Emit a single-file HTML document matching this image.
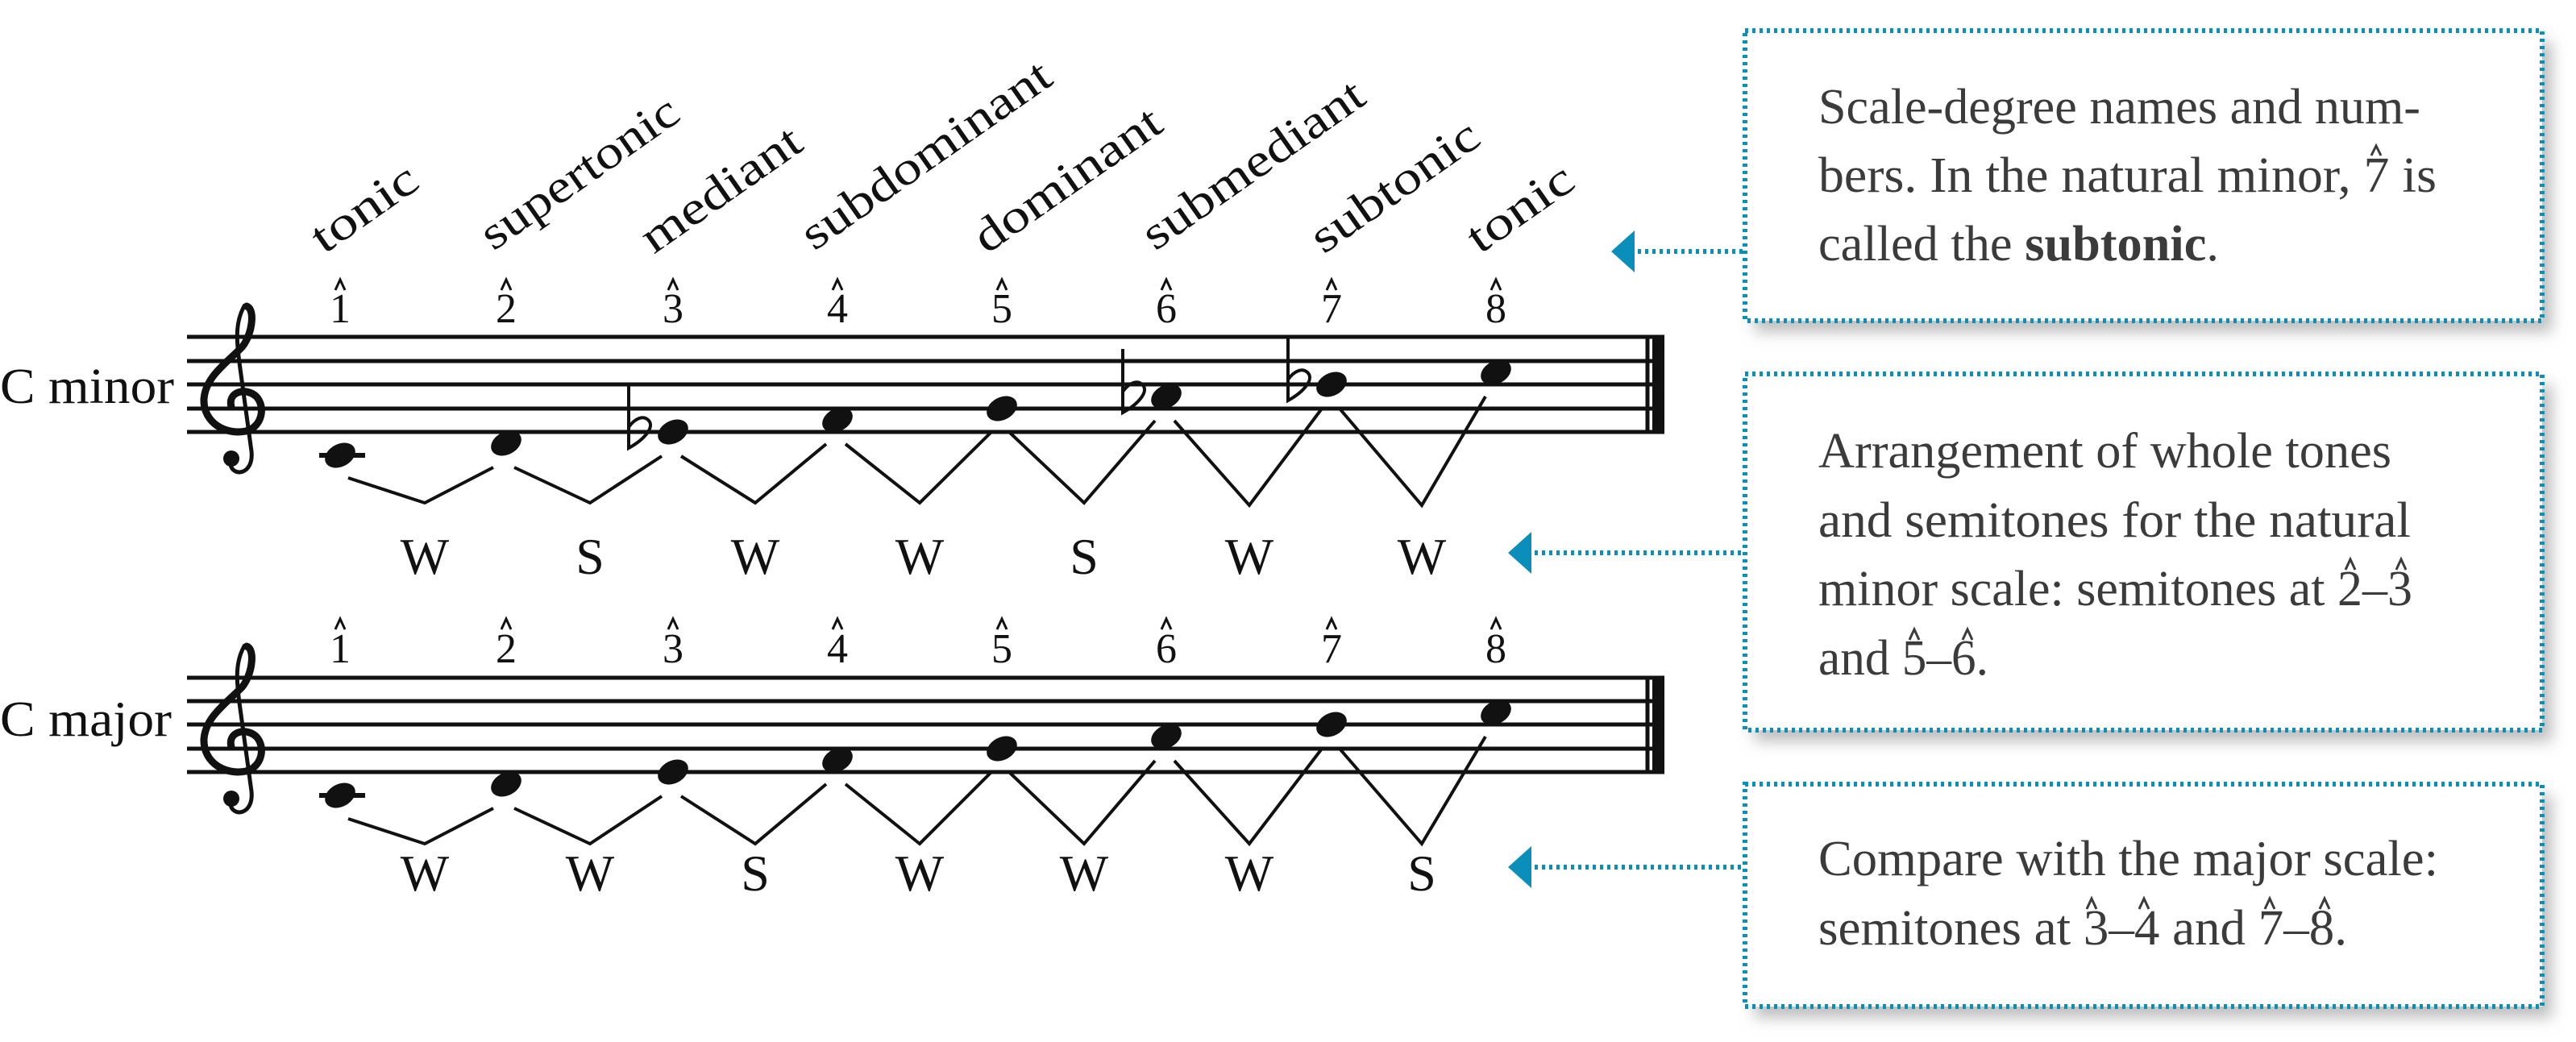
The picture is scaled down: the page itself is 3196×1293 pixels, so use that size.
<!DOCTYPE html>
<html><head><meta charset="utf-8"><style>
html,body{margin:0;padding:0;background:#fff;}
svg{display:block;}
</style></head><body>
<svg width="3196" height="1293" viewBox="0 0 3196 1293" xmlns="http://www.w3.org/2000/svg">
<defs>
<filter id="sh" x="-5%" y="-5%" width="115%" height="125%">
<feDropShadow dx="12" dy="14" stdDeviation="9" flood-color="#888" flood-opacity="0.55"/>
</filter>
<g id="clef">
<path d="M306,380 C318,384 312,420 298,433 C275,455 255,470 253,495 C252,525 280,540 305,535 C325,530 330,505 318,492 C305,480 282,486 287,505" fill="none" stroke="#111" stroke-width="9" stroke-linecap="round"/>
<path d="M304,378 C292,398 293,420 297,450 L312,560 C315,590 288,592 286,576" fill="none" stroke="#111" stroke-width="5"/>
<circle cx="287" cy="569" r="10" fill="#111"/>
</g>
</defs>

<g font-family="Liberation Serif, serif" fill="#111" font-size="58">
<text transform="translate(402,316) rotate(-35)" textLength="148" lengthAdjust="spacingAndGlyphs">tonic</text>
<text transform="translate(612,312) rotate(-35)" textLength="287" lengthAdjust="spacingAndGlyphs">supertonic</text>
<text transform="translate(811,316) rotate(-35)" textLength="230" lengthAdjust="spacingAndGlyphs">mediant</text>
<text transform="translate(1010,312) rotate(-35)" textLength="365" lengthAdjust="spacingAndGlyphs">subdominant</text>
<text transform="translate(1224,316) rotate(-35)" textLength="271" lengthAdjust="spacingAndGlyphs">dominant</text>
<text transform="translate(1433,312) rotate(-35)" textLength="323" lengthAdjust="spacingAndGlyphs">submediant</text>
<text transform="translate(1642,316) rotate(-35)" textLength="242" lengthAdjust="spacingAndGlyphs">subtonic</text>
<text transform="translate(1836,316) rotate(-35)" textLength="148" lengthAdjust="spacingAndGlyphs">tonic</text>
</g>

<!-- STAFF 1 -->
<g stroke="#111" stroke-width="5">
<line x1="232" y1="418" x2="2065" y2="418"/>
<line x1="232" y1="448" x2="2065" y2="448"/>
<line x1="232" y1="477" x2="2065" y2="477"/>
<line x1="232" y1="507" x2="2065" y2="507"/>
<line x1="232" y1="536" x2="2065" y2="536"/>
<line x1="2044" y1="416" x2="2044" y2="538"/>
<line x1="396" y1="565" x2="453" y2="565" stroke-width="6"/>
</g>
<rect x="2050" y="416" width="15" height="122" fill="#111"/>
<use href="#clef"/>
<text font-family="Liberation Serif, serif" fill="#111" x="0" y="500" font-size="62" textLength="216" lengthAdjust="spacingAndGlyphs">C minor</text>

<g fill="#111">
<ellipse cx="422" cy="565" rx="20" ry="14" transform="rotate(-28 422 565)"/>
<ellipse cx="628" cy="550" rx="20" ry="14" transform="rotate(-28 628 550)"/>
<ellipse cx="835" cy="536" rx="20" ry="14" transform="rotate(-28 835 536)"/>
<ellipse cx="1039" cy="521" rx="20" ry="14" transform="rotate(-28 1039 521)"/>
<ellipse cx="1243" cy="507" rx="20" ry="14" transform="rotate(-28 1243 507)"/>
<ellipse cx="1447" cy="492" rx="20" ry="14" transform="rotate(-28 1447 492)"/>
<ellipse cx="1652" cy="477" rx="20" ry="14" transform="rotate(-28 1652 477)"/>
<ellipse cx="1856" cy="462" rx="20" ry="14" transform="rotate(-28 1856 462)"/>
</g>
<g fill="none" stroke="#111" stroke-width="4">
<path d="M780,478 L780,556 C800,545 812,530 805,522 C798,514 787,520 780,530"/>
<path d="M1393,433 L1393,512 C1413,501 1425,486 1418,478 C1411,470 1400,476 1393,486"/>
<path d="M1598,418 L1598,497 C1618,486 1630,471 1623,463 C1616,455 1605,461 1598,471"/>
</g>
<g font-family="Liberation Serif, serif" fill="#111" font-size="52" text-anchor="middle">
<text x="422" y="400">1</text><text x="628" y="400">2</text><text x="835" y="400">3</text><text x="1039" y="400">4</text>
<text x="1243" y="400">5</text><text x="1447" y="400">6</text><text x="1652" y="400">7</text><text x="1856" y="400">8</text>
<text x="422" y="822">1</text><text x="628" y="822">2</text><text x="835" y="822">3</text><text x="1039" y="822">4</text>
<text x="1243" y="822">5</text><text x="1447" y="822">6</text><text x="1652" y="822">7</text><text x="1856" y="822">8</text>
</g>
<g fill="none" stroke="#111" stroke-width="3">
<path d="M416,360 L422,347 L428,360 M622,360 L628,347 L634,360 M829,360 L835,347 L841,360 M1033,360 L1039,347 L1045,360 M1237,360 L1243,347 L1249,360 M1441,360 L1447,347 L1453,360 M1646,360 L1652,347 L1658,360 M1850,360 L1856,347 L1862,360"/>
<path d="M416,781 L422,768 L428,781 M622,781 L628,768 L634,781 M829,781 L835,768 L841,781 M1033,781 L1039,768 L1045,781 M1237,781 L1243,768 L1249,781 M1441,781 L1447,768 L1453,781 M1646,781 L1652,768 L1658,781 M1850,781 L1856,768 L1862,781"/>
</g>
<g fill="none" stroke="#111" stroke-width="4">
<polyline points="432,593 527,624 612,580"/>
<polyline points="638,580 732,624 821,566"/>
<polyline points="845,566 937,624 1025,551"/>
<polyline points="1049,551 1141,624 1229,537"/>
<polyline points="1253,537 1345,624 1433,522"/>
<polyline points="1457,522 1550,627 1640,507"/>
<polyline points="1662,507 1764,627 1843,492"/>
</g>
<g font-family="Liberation Serif, serif" fill="#111" font-size="64" text-anchor="middle">
<text x="527" y="712">W</text><text x="732" y="712">S</text><text x="937" y="712">W</text><text x="1141" y="712">W</text>
<text x="1345" y="712">S</text><text x="1550" y="712">W</text><text x="1764" y="712">W</text>
</g>

<!-- STAFF 2 -->
<g stroke="#111" stroke-width="5">
<line x1="232" y1="841" x2="2065" y2="841"/>
<line x1="232" y1="870" x2="2065" y2="870"/>
<line x1="232" y1="899" x2="2065" y2="899"/>
<line x1="232" y1="929" x2="2065" y2="929"/>
<line x1="232" y1="958" x2="2065" y2="958"/>
<line x1="2044" y1="839" x2="2044" y2="960"/>
<line x1="396" y1="987" x2="453" y2="987" stroke-width="6"/>
</g>
<rect x="2050" y="839" width="15" height="121" fill="#111"/>
<use href="#clef" transform="translate(0,422)"/>
<text font-family="Liberation Serif, serif" fill="#111" x="0" y="913" font-size="62" textLength="213" lengthAdjust="spacingAndGlyphs">C major</text>
<g fill="#111">
<ellipse cx="422" cy="987" rx="20" ry="14" transform="rotate(-28 422 987)"/>
<ellipse cx="628" cy="973" rx="20" ry="14" transform="rotate(-28 628 973)"/>
<ellipse cx="835" cy="958" rx="20" ry="14" transform="rotate(-28 835 958)"/>
<ellipse cx="1039" cy="943" rx="20" ry="14" transform="rotate(-28 1039 943)"/>
<ellipse cx="1243" cy="929" rx="20" ry="14" transform="rotate(-28 1243 929)"/>
<ellipse cx="1447" cy="914" rx="20" ry="14" transform="rotate(-28 1447 914)"/>
<ellipse cx="1652" cy="899" rx="20" ry="14" transform="rotate(-28 1652 899)"/>
<ellipse cx="1856" cy="884" rx="20" ry="14" transform="rotate(-28 1856 884)"/>
</g>
<g fill="none" stroke="#111" stroke-width="4">
<polyline points="432,1016 527,1047 612,1003"/>
<polyline points="638,1003 732,1047 821,988"/>
<polyline points="845,988 937,1047 1025,973"/>
<polyline points="1049,973 1141,1047 1229,959"/>
<polyline points="1253,959 1345,1047 1433,944"/>
<polyline points="1457,944 1550,1047 1640,929"/>
<polyline points="1662,929 1764,1047 1843,914"/>
</g>
<g font-family="Liberation Serif, serif" fill="#111" font-size="64" text-anchor="middle">
<text x="527" y="1105">W</text><text x="732" y="1105">W</text><text x="937" y="1105">S</text><text x="1141" y="1105">W</text>
<text x="1345" y="1105">W</text><text x="1550" y="1105">W</text><text x="1764" y="1105">S</text>
</g>

<!-- arrows -->
<g stroke="#0a8fbb" stroke-width="6" stroke-dasharray="4 5">
<line x1="2032" y1="312" x2="2165" y2="312"/>
<line x1="1904" y1="686" x2="2165" y2="686"/>
<line x1="1904" y1="1076" x2="2165" y2="1076"/>
</g>
<g fill="#0a8fbb">
<polygon points="1999,312 2028,286 2028,338"/>
<polygon points="1871,686 1900,660 1900,712"/>
<polygon points="1871,1076 1900,1050 1900,1102"/>
</g>

<!-- boxes -->
<g filter="url(#sh)">
<rect x="2165" y="38" width="989" height="360" fill="#fff"/>
<rect x="2165" y="464" width="989" height="442" fill="#fff"/>
<rect x="2165" y="973" width="989" height="276" fill="#fff"/>
</g>
<g fill="none" stroke="#0a8fbb" stroke-width="6" stroke-dasharray="4 5">
<rect x="2165" y="38" width="989" height="360"/>
<rect x="2165" y="464" width="989" height="442"/>
<rect x="2165" y="973" width="989" height="276"/>
</g>

<g font-family="Liberation Serif, serif" fill="#3b3b3b" font-size="62">
<text x="2256" y="153" textLength="747" lengthAdjust="spacingAndGlyphs">Scale-degree names and num-</text>
<text x="2256" y="238" textLength="767" lengthAdjust="spacingAndGlyphs">bers. In the natural minor, 7 is</text>
<text x="2256" y="323" textLength="497" lengthAdjust="spacingAndGlyphs">called the <tspan font-weight="bold">subtonic</tspan>.</text>

<text x="2256" y="580" textLength="711" lengthAdjust="spacingAndGlyphs">Arrangement of whole tones</text>
<text x="2256" y="666" textLength="735" lengthAdjust="spacingAndGlyphs">and semitones for the natural</text>
<text x="2256" y="751" textLength="737" lengthAdjust="spacingAndGlyphs">minor scale: semitones at 2–3</text>
<text x="2256" y="837" textLength="211" lengthAdjust="spacingAndGlyphs">and 5–6.</text>

<text x="2256" y="1086" textLength="769" lengthAdjust="spacingAndGlyphs">Compare with the major scale:</text>
<text x="2256" y="1172" textLength="656" lengthAdjust="spacingAndGlyphs">semitones at 3–4 and 7–8.</text>
</g>
<g fill="none" stroke="#3b3b3b" stroke-width="3">
<path d="M2942,193 L2948,181 L2954,193"/>
<path d="M2910,707 L2916,694 L2922,707 M2973,707 L2979,694 L2985,707"/>
<path d="M2369,794 L2375,781 L2381,794 M2435,794 L2441,781 L2447,794"/>
<path d="M2589,1128 L2595,1115 L2601,1128 M2654,1128 L2660,1115 L2666,1128 M2810,1128 L2816,1115 L2822,1128 M2878,1128 L2884,1115 L2890,1128"/>
</g>
</svg>
</body></html>
